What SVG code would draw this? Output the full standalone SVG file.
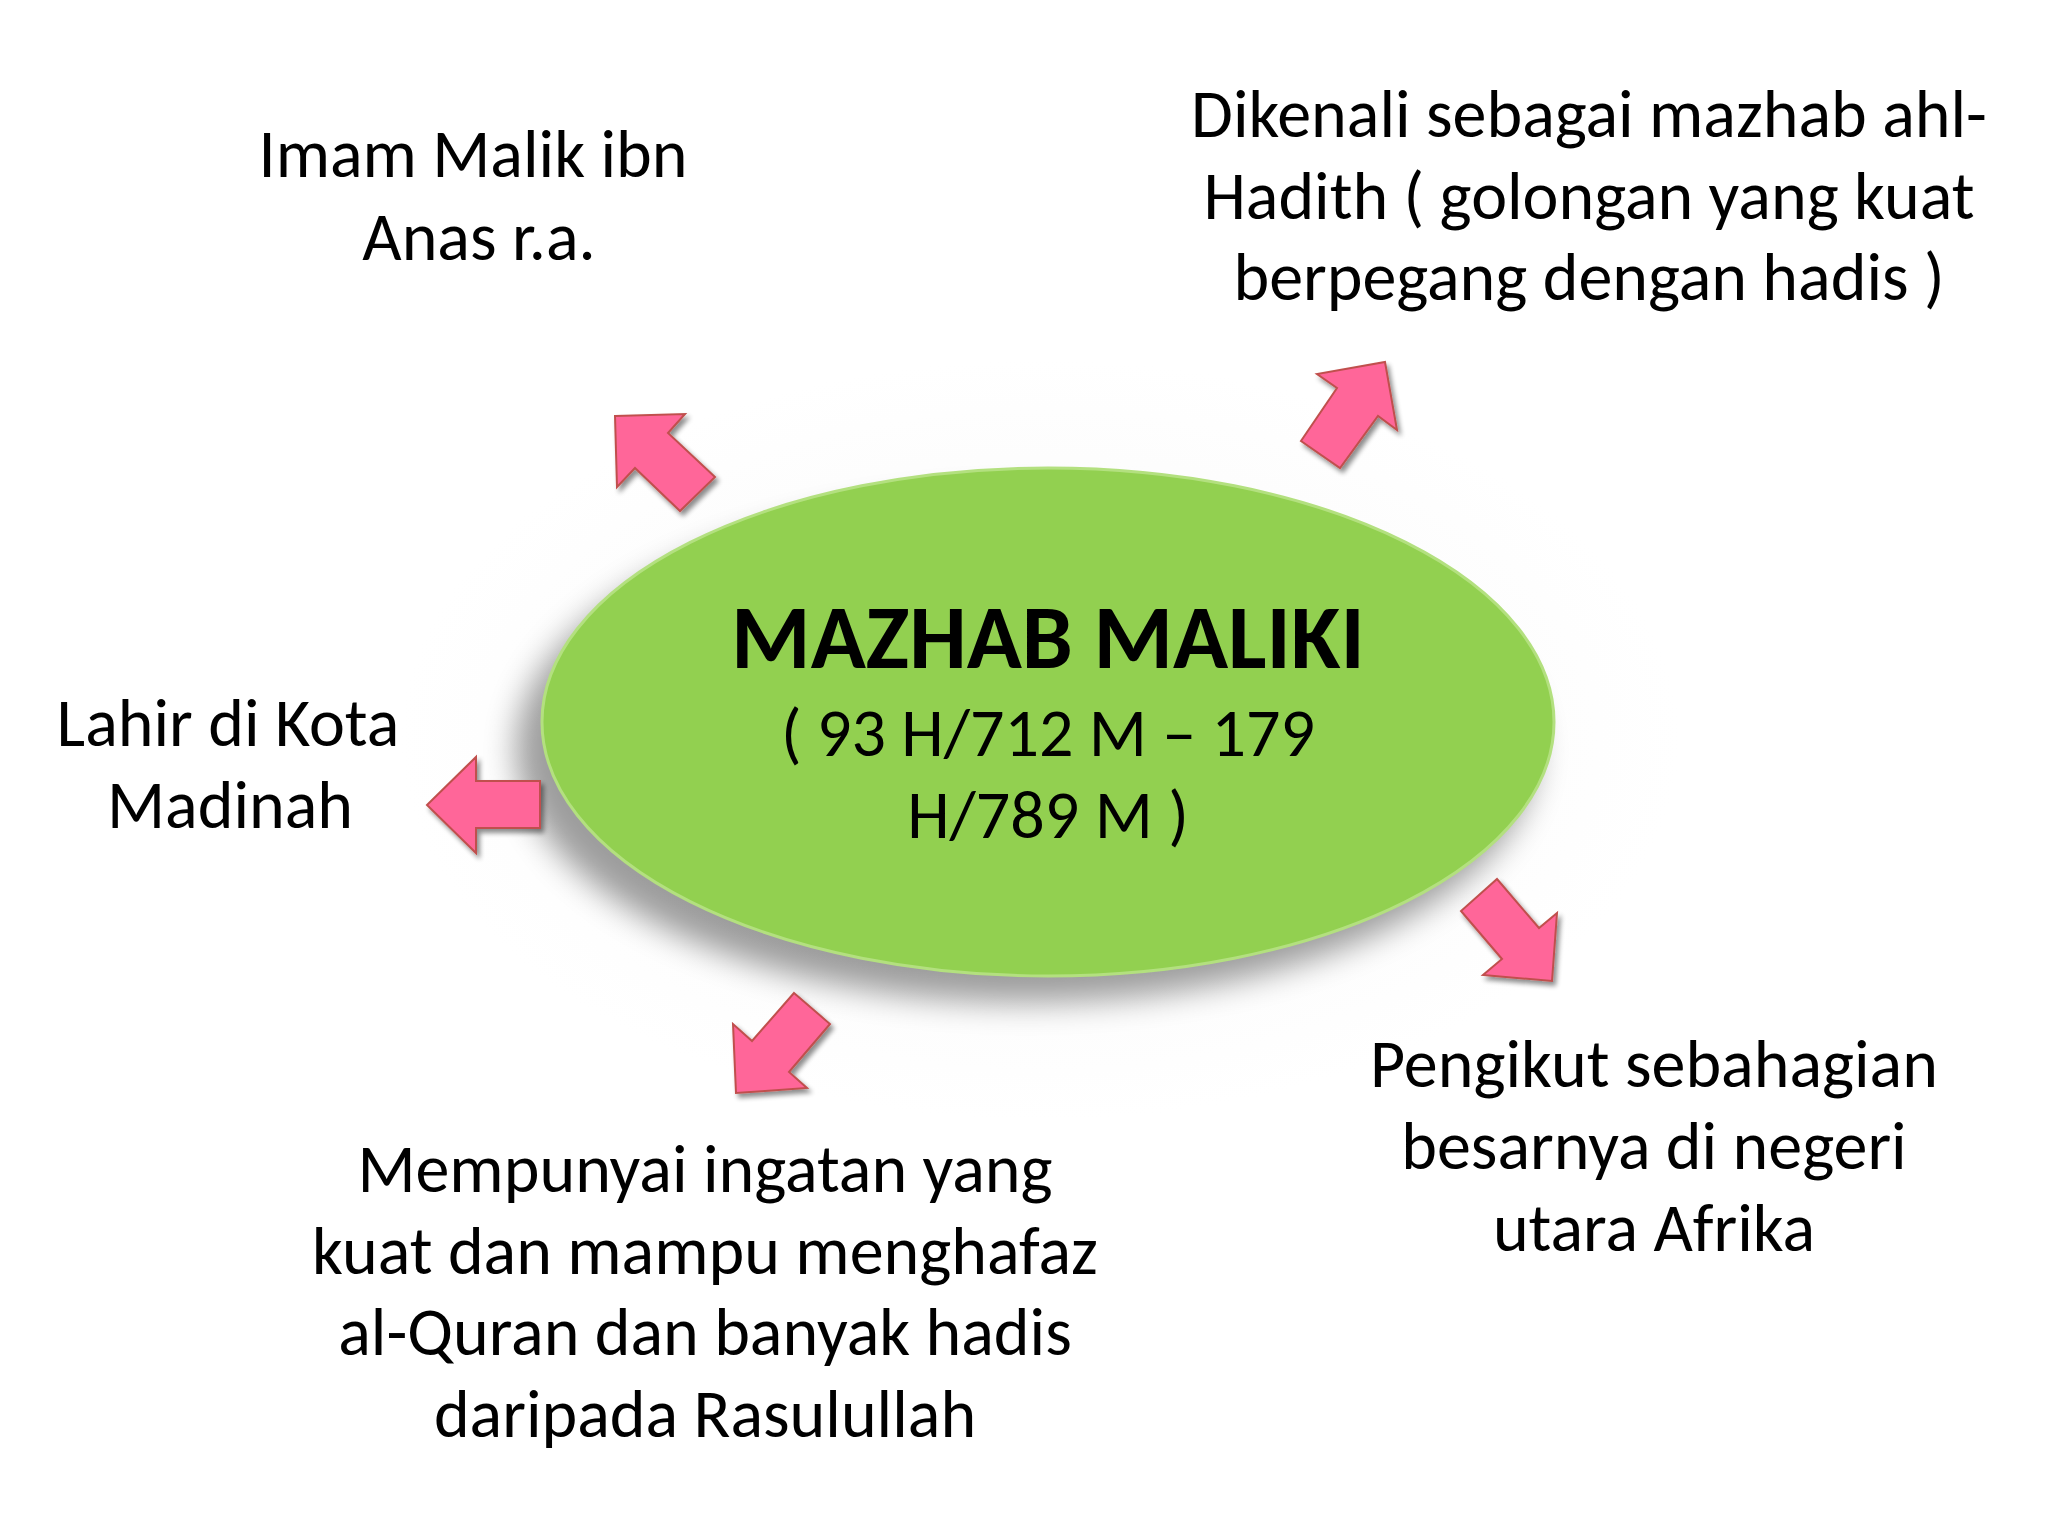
<svg xmlns="http://www.w3.org/2000/svg" width="2048" height="1536" viewBox="0 0 2048 1536">
  <defs>
    <filter id="ellShadow" x="-20%" y="-30%" width="140%" height="160%">
      <feGaussianBlur stdDeviation="16"/>
    </filter>
    <filter id="arrShadow" x="-30%" y="-30%" width="160%" height="160%">
      <feGaussianBlur in="SourceAlpha" stdDeviation="2.5"/>
      <feOffset dx="3" dy="4" result="b"/>
      <feComponentTransfer><feFuncA type="linear" slope="0.45"/></feComponentTransfer>
      <feMerge><feMergeNode/><feMergeNode in="SourceGraphic"/></feMerge>
    </filter>
    <radialGradient id="halo" cx="0.5" cy="0.5" r="0.5">
      <stop offset="0" stop-color="#f2f2f2"/>
      <stop offset="1" stop-color="#ffffff"/>
    </radialGradient>
  </defs>
  <style>
    .t { font-family: Carlito, Calibri, Lato, "Liberation Sans", sans-serif; font-size: 68px; fill: #000; text-anchor: middle; }
    .title { font-family: Carlito, Calibri, Lato, "Liberation Sans", sans-serif; font-size: 91px; font-weight: bold; fill: #000; text-anchor: middle; }
    .arrow { fill: #FF6699; stroke: #C0504D; stroke-width: 2; stroke-linejoin: miter; filter: url(#arrShadow); }
  </style>
  <rect width="2048" height="1536" fill="#ffffff"/>
  <ellipse cx="1040" cy="740" rx="640" ry="380" fill="url(#halo)" opacity="0.6"/>

  <g id="center">
    <ellipse cx="1026" cy="750" rx="510" ry="252" fill="#000" opacity="0.38" filter="url(#ellShadow)"/>
    <ellipse cx="1048" cy="722" rx="506" ry="254" fill="#92D050" stroke="#b3e07f" stroke-width="3"/>
    <text class="title" x="1048" y="668">MAZHAB MALIKI</text>
    <text class="t" x="1048" y="756">( 93 H/712 M – 179</text>
    <text class="t" x="1048" y="838">H/789 M )</text>
  </g>

  <g id="connectors">
    <polygon class="arrow" points="615,416 685,414 668,433 715,477 680,511 635,468 617,487"/>
    <polygon class="arrow" points="1385,362 1397,430 1378,416 1340,468 1301,441 1337,388 1317,374"/>
    <polygon class="arrow" points="427,805 476,757 476,781 540,781 540,828 476,828 476,853"/>
    <polygon class="arrow" points="794,993 830,1024 789,1072 807,1088 736,1093 733,1024 752,1041"/>
    <polygon class="arrow" points="1497,879 1539,928 1557,913 1552,981 1483,975 1502,959 1461,911"/>
  </g>

  <g id="node-imam">
    <text class="t" x="473" y="177">Imam Malik ibn</text>
    <text class="t" x="479" y="260">Anas r.a.</text>
  </g>

  <g id="node-dikenali">
    <text class="t" x="1589" y="137">Dikenali sebagai mazhab ahl-</text>
    <text class="t" x="1589" y="219">Hadith ( golongan yang kuat</text>
    <text class="t" x="1589" y="300">berpegang dengan hadis )</text>
  </g>

  <g id="node-lahir">
    <text class="t" x="228" y="746">Lahir di Kota</text>
    <text class="t" x="230" y="828">Madinah</text>
  </g>

  <g id="node-pengikut">
    <text class="t" x="1654" y="1087">Pengikut sebahagian</text>
    <text class="t" x="1654" y="1169">besarnya di negeri</text>
    <text class="t" x="1654" y="1251">utara Afrika</text>
  </g>

  <g id="node-mempunyai">
    <text class="t" x="705" y="1192">Mempunyai ingatan yang</text>
    <text class="t" x="705" y="1274">kuat dan mampu menghafaz</text>
    <text class="t" x="705" y="1355">al-Quran dan banyak hadis</text>
    <text class="t" x="705" y="1437">daripada Rasulullah</text>
  </g>
</svg>
